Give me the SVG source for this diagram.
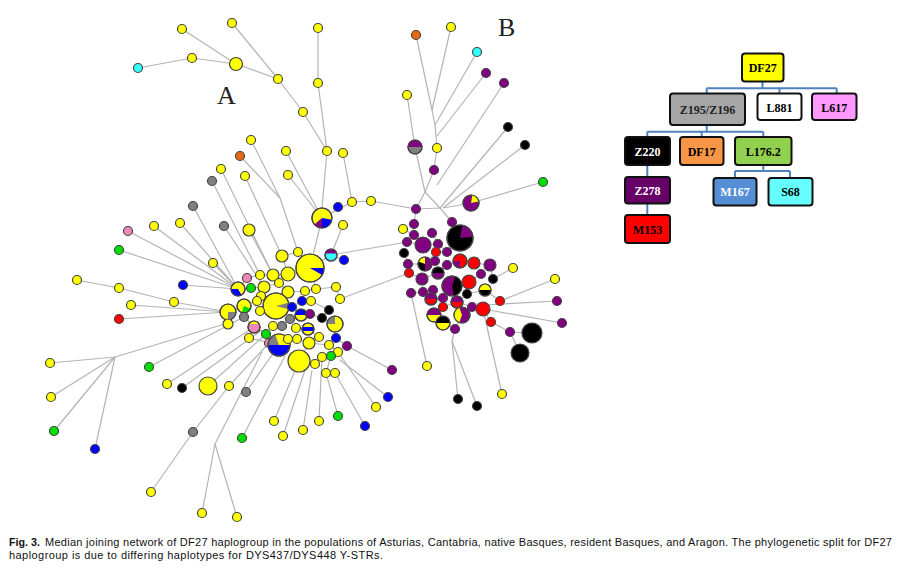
<svg xmlns="http://www.w3.org/2000/svg" width="898" height="573" viewBox="0 0 898 573">
<style>
circle{stroke:#444;stroke-width:1.2}
.y{fill:#ffff00}.p{fill:#800080}.k{fill:#000}.r{fill:#ff0000}.b{fill:#0000ff}.g{fill:#00dd00}.gr{fill:#808080}.c{fill:#33ffff}.o{fill:#e86a10}.pk{fill:#ee88bb}.ol{fill:none}
path.w{stroke:none}
#links path{stroke:#b4b4b4;stroke-width:1.2;fill:none}
#tree-links path{stroke:#4f81bd;stroke-width:2;fill:none}
.box{stroke:#111;stroke-width:2}
.bt{font-family:"Liberation Serif",serif;font-weight:bold;font-size:12px;text-anchor:middle}
.lab{font-family:"Liberation Serif",serif;font-size:26px;fill:#222}
.cap{font-family:"Liberation Sans",Arial,sans-serif;font-size:11px;fill:#111}
</style>
<rect width="898" height="573" fill="#fff"/>
<g id="links">
<path d="M138 68L192 58"/><path d="M192 58L236 64"/><path d="M182 29L236 64"/><path d="M236 64L278 79"/><path d="M232 23L278 79"/><path d="M278 79L303 112"/><path d="M303 112L327 151"/><path d="M318 28L318 83"/><path d="M318 83L327 151"/><path d="M327 151L322 208"/><path d="M343 153L352 202"/><path d="M352 202L371 201"/><path d="M371 201L416 209"/><path d="M322 218L352 202"/>
<path d="M251 140L280 198"/><path d="M240 156L280 198"/><path d="M280 198L298 252"/><path d="M221 169L273 275"/><path d="M212 181L260 275"/><path d="M245 176L282 256"/><path d="M286 151L322 218"/><path d="M288 175L322 218"/>
<path d="M193 206L238 289"/><path d="M224 226L264 287"/><path d="M180 223L238 289"/><path d="M154 226L238 289"/><path d="M128 231L238 289"/><path d="M119 250L238 289"/><path d="M213 263L238 289"/><path d="M183 285L238 289"/><path d="M77 280L119 288"/><path d="M119 288L174 302"/><path d="M174 302L228 312"/><path d="M131 305L228 312"/><path d="M119 319L228 312"/><path d="M249 230L273 275"/>
<path d="M322 218L310 268"/><path d="M343 225L331 255"/><path d="M331 255L310 268"/><path d="M344 260L331 255"/><path d="M331 255L407 242"/><path d="M340 299L409 273"/>
<path d="M115 357L228 323"/><path d="M115 357L50 363"/><path d="M115 357L51 397"/><path d="M115 357L54 431"/><path d="M115 357L95 449"/>
<path d="M149 367L244 317"/><path d="M167 384L254 327"/><path d="M182 388L262 330"/><path d="M208 386L266 334"/><path d="M229 386L269 343"/><path d="M193 432L229 386"/><path d="M151 492L193 432"/><path d="M215 444L202 513"/><path d="M215 444L237 517"/><path d="M215 444L262 352"/><path d="M246 392L279 345"/><path d="M242 438L285 356"/><path d="M274 421L299 361"/><path d="M283 436L305 370"/><path d="M303 430L312 370"/><path d="M319 421L322 357"/><path d="M338 416L326 373"/><path d="M365 426L335 373"/><path d="M376 407L338 352"/><path d="M388 397L340 360"/><path d="M392 370L347 346"/>
<path d="M238 289L247 278"/><path d="M247 278L260 275"/><path d="M260 275L273 275"/><path d="M273 275L288 274"/><path d="M288 274L310 268"/><path d="M282 256L298 252"/><path d="M298 252L310 268"/><path d="M282 256L288 274"/><path d="M238 289L251 288"/><path d="M251 288L264 287"/><path d="M264 287L279 283"/><path d="M279 283L288 292"/><path d="M288 292L305 291"/><path d="M305 291L316 289"/><path d="M316 289L336 287"/><path d="M336 287L340 299"/><path d="M276 306L292 307"/><path d="M292 307L302 301"/><path d="M302 301L311 301"/><path d="M311 301L329 310"/><path d="M329 310L322 318"/><path d="M322 318L335 324"/><path d="M301 315L310 314"/><path d="M310 314L322 318"/><path d="M228 312L244 306"/><path d="M244 306L257 301"/><path d="M257 301L261 296"/><path d="M228 312L228 323"/><path d="M244 317L254 327"/><path d="M254 327L266 334"/><path d="M266 334L269 343"/><path d="M273 326L282 326"/><path d="M282 326L290 319"/><path d="M290 319L301 315"/><path d="M296 328L308 329"/><path d="M308 329L319 337"/><path d="M297 339L309 343"/><path d="M288 339L279 345"/><path d="M309 343L329 345"/><path d="M329 345L338 352"/><path d="M336 338L347 346"/><path d="M322 357L315 364"/><path d="M299 361L315 364"/><path d="M331 356L326 373"/><path d="M260 311L276 306"/><path d="M249 338L279 345"/><path d="M310 268L316 289"/><path d="M276 306L288 292"/><path d="M299 361L309 343"/>
<path d="M416 35L432 110"/><path d="M451 27L432 110"/><path d="M432 110L435 125"/><path d="M477 52L435 125"/><path d="M435 125L437 148"/><path d="M486 73L437 136"/><path d="M437 148L434 170"/><path d="M504 83L437 185"/><path d="M434 170L425 192"/><path d="M407 95L415 147"/><path d="M415 147L425 192"/><path d="M425 192L416 209"/><path d="M425 192L440 208"/><path d="M508 127L440 208"/><path d="M525 145L443 208"/><path d="M543 182L471 203"/><path d="M471 203L443 208"/><path d="M440 208L452 222"/><path d="M416 209L440 208"/>
<path d="M452 222L460 238"/><path d="M416 209L414 224"/><path d="M414 224L414 235"/><path d="M414 235L423 245"/><path d="M403 229L414 235"/><path d="M432 233L438 244"/><path d="M423 245L438 244"/><path d="M438 244L447 252"/><path d="M447 252L460 238"/><path d="M407 242L423 245"/><path d="M404 253L408 264"/><path d="M408 264L425 264"/><path d="M425 264L435 261"/><path d="M435 261L436 252"/><path d="M436 252L447 252"/><path d="M447 265L460 261"/><path d="M460 261L474 263"/><path d="M474 263L490 265"/><path d="M490 265L493 279"/><path d="M409 273L422 279"/><path d="M422 279L438 273"/><path d="M438 273L447 265"/><path d="M422 279L423 292"/><path d="M411 293L423 292"/><path d="M423 292L433 290"/><path d="M433 290L431 299"/><path d="M431 299L443 298"/><path d="M443 298L452 286"/><path d="M452 286L469 282"/><path d="M469 282L481 274"/><path d="M469 282L467 294"/><path d="M467 294L485 290"/><path d="M485 290L500 301"/><path d="M443 307L457 302"/><path d="M457 302L472 307"/><path d="M472 307L483 309"/><path d="M434 315L443 307"/><path d="M443 323L455 329"/><path d="M455 329L462 315"/><path d="M462 315L457 302"/><path d="M483 309L491 322"/>
<path d="M513 268L493 279"/><path d="M555 279L500 301"/><path d="M557 301L485 305"/><path d="M562 323L483 309"/><path d="M510 332L491 322"/><path d="M532 333L510 332"/><path d="M520 353L510 332"/><path d="M427 366L411 293"/><path d="M458 399L452 341"/><path d="M477 406L452 341"/><path d="M452 341L455 329"/><path d="M502 394L483 309"/>
</g>
<g id="nodesA">
<g id="a1"><circle cx="138" cy="68" r="4.5" class="c"/></g>
<g id="a2"><circle cx="192" cy="58" r="4.5" class="y"/></g>
<g id="a3"><circle cx="236" cy="64" r="6.5" class="y"/></g>
<g id="a4"><circle cx="182" cy="29" r="4.5" class="y"/></g>
<g id="a5"><circle cx="232" cy="23" r="4.5" class="y"/></g>
<g id="a6"><circle cx="278" cy="79" r="4.5" class="y"/></g>
<g id="a7"><circle cx="303" cy="112" r="4.5" class="y"/></g>
<g id="a8"><circle cx="318" cy="28" r="4.5" class="y"/></g>
<g id="a9"><circle cx="318" cy="83" r="4.5" class="y"/></g>
<g id="a10"><circle cx="327" cy="151" r="4.5" class="y"/></g>
<g id="a11"><circle cx="343" cy="153" r="4.5" class="y"/></g>
<g id="a12"><circle cx="251" cy="140" r="4.5" class="y"/></g>
<g id="a13"><circle cx="240" cy="156" r="4.5" class="o"/></g>
<g id="a14"><circle cx="221" cy="169" r="4.5" class="y"/></g>
<g id="a15"><circle cx="212" cy="181" r="4.5" class="gr"/></g>
<g id="a16"><circle cx="245" cy="176" r="4.5" class="y"/></g>
<g id="a17"><circle cx="286" cy="151" r="4.5" class="y"/></g>
<g id="a18"><circle cx="288" cy="175" r="4.5" class="y"/></g>
<g id="a19"><circle cx="338" cy="207" r="4.5" class="b"/></g>
<g id="a20"><circle cx="352" cy="202" r="4.5" class="y"/></g>
<g id="a21"><circle cx="371" cy="201" r="4.5" class="y"/></g>
<g id="a22"><circle cx="322" cy="218" r="10" class="y"/><path class="w b" d="M322 218L331.85 219.74A10 10 0 0 1 322 228Z"/><path class="w p" d="M322 218L322 228A10 10 0 0 1 314.34 224.43Z"/><circle cx="322" cy="218" r="10" class="ol"/></g>
<g id="a23"><circle cx="343" cy="225" r="4.5" class="y"/></g>
<g id="a24"><circle cx="193" cy="206" r="4.5" class="gr"/></g>
<g id="a25"><circle cx="224" cy="226" r="4.5" class="gr"/></g>
<g id="a26"><circle cx="249" cy="230" r="6" class="y"/></g>
<g id="a27"><circle cx="180" cy="223" r="4.5" class="y"/></g>
<g id="a28"><circle cx="154" cy="226" r="4.5" class="y"/></g>
<g id="a29"><circle cx="128" cy="231" r="4.5" class="pk"/></g>
<g id="a30"><circle cx="119" cy="250" r="4.5" class="g"/></g>
<g id="a31"><circle cx="213" cy="263" r="4.5" class="y"/></g>
<g id="a32"><circle cx="183" cy="285" r="4.5" class="b"/></g>
<g id="a33"><circle cx="77" cy="280" r="4.5" class="y"/></g>
<g id="a34"><circle cx="119" cy="288" r="4.5" class="y"/></g>
<g id="a35"><circle cx="174" cy="302" r="4.5" class="y"/></g>
<g id="a36"><circle cx="131" cy="305" r="4.5" class="y"/></g>
<g id="a37"><circle cx="119" cy="319" r="4.5" class="r"/></g>
<g id="a38"><circle cx="331" cy="255" r="6" class="c"/><path class="w p" d="M325.19 253.5A6 6 0 0 1 336.81 253.5Z"/><circle cx="331" cy="255" r="6" class="ol"/></g>
<g id="a39"><circle cx="344" cy="260" r="4.5" class="b"/></g>
<g id="a40"><circle cx="298" cy="252" r="4.5" class="y"/></g>
<g id="a41"><circle cx="282" cy="256" r="6" class="y"/></g>
<g id="a42"><circle cx="310" cy="268" r="14" class="y"/><path class="w b" d="M310 268L324 268A14 14 0 0 1 322.12 275Z"/><circle cx="310" cy="268" r="14" class="ol"/></g>
<g id="a43"><circle cx="288" cy="274" r="7" class="y"/></g>
<g id="a44"><circle cx="273" cy="275" r="6" class="y"/></g>
<g id="a45"><circle cx="260" cy="275" r="4.5" class="y"/></g>
<g id="a46"><circle cx="247" cy="278" r="4.5" class="pk"/></g>
<g id="a47"><circle cx="238" cy="289" r="7" class="y"/><path class="w b" d="M238 289L241.5 295.06A7 7 0 0 1 231 289Z"/><circle cx="238" cy="289" r="7" class="ol"/></g>
<g id="a48"><circle cx="251" cy="288" r="4.5" class="g"/></g>
<g id="a49"><circle cx="264" cy="287" r="6" class="y"/></g>
<g id="a50"><circle cx="279" cy="283" r="4.5" class="y"/></g>
<g id="a51"><circle cx="288" cy="292" r="6" class="y"/></g>
<g id="a52"><circle cx="261" cy="296" r="4.5" class="y"/></g>
<g id="a53"><circle cx="276" cy="306" r="13" class="y"/><path class="w gr" d="M276 306L288.56 302.64A13 13 0 0 1 288.56 309.36Z"/><circle cx="276" cy="306" r="13" class="ol"/></g>
<g id="a54"><circle cx="257" cy="301" r="4.5" class="y"/></g>
<g id="a55"><circle cx="244" cy="306" r="7" class="y"/><path class="w g" d="M244 306L250.58 308.39A7 7 0 0 1 241.61 312.58Z"/><circle cx="244" cy="306" r="7" class="ol"/></g>
<g id="a56"><circle cx="228" cy="312" r="8" class="y"/><path class="w gr" d="M228 312L236 312A8 8 0 0 1 228 320Z"/><circle cx="228" cy="312" r="8" class="ol"/></g>
<g id="a57"><circle cx="228" cy="324" r="5" class="y"/></g>
<g id="a58"><circle cx="244" cy="317" r="4.5" class="gr"/></g>
<g id="a59"><circle cx="292" cy="307" r="4.5" class="b"/></g>
<g id="a60"><circle cx="305" cy="291" r="4.5" class="y"/></g>
<g id="a61"><circle cx="316" cy="289" r="4.5" class="y"/></g>
<g id="a62"><circle cx="336" cy="287" r="4.5" class="y"/></g>
<g id="a63"><circle cx="340" cy="299" r="4.5" class="y"/></g>
<g id="a64"><circle cx="302" cy="301" r="4.5" class="b"/></g>
<g id="a65"><circle cx="311" cy="301" r="4.5" class="y"/></g>
<g id="a66"><circle cx="301" cy="315" r="6" class="y"/><path class="w b" d="M295 315A6 6 0 0 1 307 315Z"/><circle cx="301" cy="315" r="6" class="ol"/></g>
<g id="a67"><circle cx="310" cy="314" r="4.5" class="p"/></g>
<g id="a68"><circle cx="260" cy="311" r="4.5" class="y"/></g>
<g id="a69"><circle cx="282" cy="326" r="4.5" class="gr"/></g>
<g id="a70"><circle cx="290" cy="319" r="4.5" class="gr"/></g>
<g id="a71"><circle cx="254" cy="327" r="6" class="pk"/><path class="w y" d="M248.8 324A6 6 0 0 1 259.2 324Z"/><circle cx="254" cy="327" r="6" class="ol"/></g>
<g id="a72"><circle cx="266" cy="334" r="4.5" class="g"/></g>
<g id="a73"><circle cx="269" cy="343" r="4.5" class="pk"/></g>
<g id="a74"><circle cx="273" cy="326" r="4.5" class="y"/></g>
<g id="a75"><circle cx="249" cy="338" r="4.5" class="y"/></g>
<g id="a76"><circle cx="279" cy="345" r="11" class="b"/><path class="w y" d="M268 345A11 11 0 0 1 290 345Z"/><path class="w gr" d="M279 345L268 345A11 11 0 0 1 275.24 334.66Z"/><circle cx="279" cy="345" r="11" class="ol"/></g>
<g id="a77"><circle cx="299" cy="361" r="11" class="y"/></g>
<g id="a78"><circle cx="329" cy="310" r="4.5" class="k"/></g>
<g id="a79"><circle cx="322" cy="318" r="4.5" class="k"/></g>
<g id="a80"><circle cx="335" cy="324" r="8" class="y"/><path class="w gr" d="M335 324L327 324A8 8 0 0 1 335 316Z"/><circle cx="335" cy="324" r="8" class="ol"/></g>
<g id="a81"><circle cx="308" cy="329" r="6" class="y"/><path class="w b" d="M302.34 327L313.66 327A6 6 0 0 1 313.66 331L302.34 331A6 6 0 0 1 302.34 327Z"/><circle cx="308" cy="329" r="6" class="ol"/></g>
<g id="a82"><circle cx="296" cy="328" r="4.5" class="y"/></g>
<g id="a83"><circle cx="297" cy="339" r="4.5" class="y"/></g>
<g id="a84"><circle cx="288" cy="339" r="4.5" class="y"/></g>
<g id="a85"><circle cx="309" cy="343" r="6" class="y"/></g>
<g id="a86"><circle cx="319" cy="337" r="4.5" class="y"/></g>
<g id="a87"><circle cx="336" cy="338" r="4.5" class="b"/></g>
<g id="a88"><circle cx="347" cy="346" r="4.5" class="p"/></g>
<g id="a89"><circle cx="329" cy="345" r="4.5" class="y"/></g>
<g id="a90"><circle cx="338" cy="352" r="4.5" class="y"/></g>
<g id="a91"><circle cx="331" cy="356" r="4.5" class="g"/></g>
<g id="a92"><circle cx="322" cy="357" r="4.5" class="y"/></g>
<g id="a93"><circle cx="315" cy="364" r="4.5" class="y"/></g>
<g id="a94"><circle cx="326" cy="373" r="4.5" class="y"/></g>
<g id="a95"><circle cx="335" cy="373" r="4.5" class="y"/></g>
<g id="a96"><circle cx="50" cy="363" r="4.5" class="y"/></g>
<g id="a97"><circle cx="51" cy="397" r="4.5" class="y"/></g>
<g id="a98"><circle cx="54" cy="431" r="4.5" class="g"/></g>
<g id="a99"><circle cx="95" cy="449" r="4.5" class="b"/></g>
<g id="a100"><circle cx="149" cy="367" r="4.5" class="g"/></g>
<g id="a101"><circle cx="167" cy="384" r="4.5" class="y"/></g>
<g id="a102"><circle cx="182" cy="388" r="4.5" class="k"/></g>
<g id="a103"><circle cx="208" cy="386" r="9" class="y"/></g>
<g id="a104"><circle cx="229" cy="386" r="4.5" class="y"/></g>
<g id="a105"><circle cx="246" cy="392" r="4.5" class="gr"/></g>
<g id="a106"><circle cx="193" cy="432" r="4.5" class="gr"/></g>
<g id="a107"><circle cx="151" cy="492" r="4.5" class="y"/></g>
<g id="a108"><circle cx="202" cy="513" r="4.5" class="y"/></g>
<g id="a109"><circle cx="237" cy="517" r="4.5" class="y"/></g>
<g id="a110"><circle cx="242" cy="438" r="4.5" class="g"/></g>
<g id="a111"><circle cx="274" cy="421" r="4.5" class="y"/></g>
<g id="a112"><circle cx="283" cy="436" r="4.5" class="y"/></g>
<g id="a113"><circle cx="303" cy="430" r="4.5" class="y"/></g>
<g id="a114"><circle cx="319" cy="421" r="4.5" class="y"/></g>
<g id="a115"><circle cx="338" cy="416" r="4.5" class="g"/></g>
<g id="a116"><circle cx="365" cy="426" r="4.5" class="b"/></g>
<g id="a117"><circle cx="376" cy="407" r="4.5" class="y"/></g>
<g id="a118"><circle cx="388" cy="397" r="4.5" class="b"/></g>
<g id="a119"><circle cx="392" cy="370" r="4.5" class="p"/></g>
</g>
<g id="nodesB">
<g id="b1"><circle cx="416" cy="35" r="4.5" class="o"/></g>
<g id="b2"><circle cx="451" cy="27" r="4.5" class="y"/></g>
<g id="b3"><circle cx="477" cy="52" r="4.5" class="c"/></g>
<g id="b4"><circle cx="486" cy="73" r="4.5" class="p"/></g>
<g id="b5"><circle cx="504" cy="83" r="4.5" class="p"/></g>
<g id="b6"><circle cx="407" cy="95" r="4.5" class="y"/></g>
<g id="b7"><circle cx="508" cy="127" r="4.5" class="k"/></g>
<g id="b8"><circle cx="525" cy="145" r="4.5" class="k"/></g>
<g id="b9"><circle cx="543" cy="182" r="4.5" class="g"/></g>
<g id="b10"><circle cx="415" cy="147" r="7" class="gr"/><path class="w p" d="M408 147A7 7 0 0 1 422 147Z"/><circle cx="415" cy="147" r="7" class="ol"/></g>
<g id="b11"><circle cx="437" cy="148" r="4.5" class="y"/></g>
<g id="b12"><circle cx="434" cy="170" r="4.5" class="p"/></g>
<g id="b13"><circle cx="471" cy="203" r="8" class="p"/><path class="w y" d="M471 203L472.39 195.12A8 8 0 0 1 478.88 201.61Z"/><circle cx="471" cy="203" r="8" class="ol"/></g>
<g id="b14"><circle cx="416" cy="209" r="4.5" class="p"/></g>
<g id="b15"><circle cx="452" cy="222" r="4.5" class="p"/></g>
<g id="b16"><circle cx="403" cy="229" r="4.5" class="y"/></g>
<g id="b17"><circle cx="414" cy="224" r="4.5" class="p"/></g>
<g id="b18"><circle cx="414" cy="235" r="4.5" class="p"/></g>
<g id="b19"><circle cx="432" cy="233" r="4.5" class="p"/></g>
<g id="b20"><circle cx="460" cy="238" r="13" class="k"/><path class="w p" d="M460 238L462.26 225.2A13 13 0 0 1 472.95 236.87Z"/><circle cx="460" cy="238" r="13" class="ol"/></g>
<g id="b21"><circle cx="407" cy="242" r="4.5" class="p"/></g>
<g id="b22"><circle cx="423" cy="245" r="8" class="p"/></g>
<g id="b23"><circle cx="438" cy="244" r="4.5" class="p"/></g>
<g id="b24"><circle cx="404" cy="253" r="4.5" class="k"/></g>
<g id="b25"><circle cx="436" cy="252" r="4.5" class="r"/></g>
<g id="b26"><circle cx="447" cy="252" r="4.5" class="p"/></g>
<g id="b27"><circle cx="408" cy="264" r="4.5" class="p"/></g>
<g id="b28"><circle cx="425" cy="264" r="7" class="p"/><path class="w k" d="M425 264L425 271A7 7 0 0 1 425 257Z"/><path class="w y" d="M425 264L418.42 261.61A7 7 0 0 1 425 257Z"/><circle cx="425" cy="264" r="7" class="ol"/></g>
<g id="b29"><circle cx="435" cy="261" r="4.5" class="p"/></g>
<g id="b30"><circle cx="460" cy="261" r="7" class="r"/><path class="w p" d="M460 261L460 268A7 7 0 0 1 453 261Z"/><circle cx="460" cy="261" r="7" class="ol"/></g>
<g id="b31"><circle cx="474" cy="263" r="6" class="r"/></g>
<g id="b32"><circle cx="490" cy="265" r="6" class="p"/></g>
<g id="b33"><circle cx="409" cy="273" r="4.5" class="r"/></g>
<g id="b34"><circle cx="438" cy="273" r="6" class="p"/><path class="w k" d="M432 273A6 6 0 0 1 444 273Z"/><circle cx="438" cy="273" r="6" class="ol"/></g>
<g id="b35"><circle cx="447" cy="265" r="4.5" class="p"/></g>
<g id="b36"><circle cx="422" cy="279" r="6" class="p"/></g>
<g id="b37"><circle cx="469" cy="282" r="7" class="r"/></g>
<g id="b38"><circle cx="481" cy="274" r="4.5" class="p"/></g>
<g id="b39"><circle cx="493" cy="279" r="4.5" class="k"/></g>
<g id="b40"><circle cx="513" cy="268" r="4.5" class="y"/></g>
<g id="b41"><circle cx="555" cy="279" r="4.5" class="y"/></g>
<g id="b42"><circle cx="452" cy="286" r="10" class="p"/><path class="w k" d="M452 286L455.42 276.6A10 10 0 0 1 453.74 295.85Z"/><circle cx="452" cy="286" r="10" class="ol"/></g>
<g id="b43"><circle cx="411" cy="293" r="4.5" class="p"/></g>
<g id="b44"><circle cx="423" cy="292" r="4.5" class="p"/></g>
<g id="b45"><circle cx="433" cy="290" r="4.5" class="p"/></g>
<g id="b46"><circle cx="431" cy="299" r="6" class="r"/><path class="w p" d="M425 299A6 6 0 0 1 437 299Z"/><circle cx="431" cy="299" r="6" class="ol"/></g>
<g id="b47"><circle cx="443" cy="298" r="4.5" class="p"/></g>
<g id="b48"><circle cx="467" cy="294" r="4.5" class="k"/></g>
<g id="b49"><circle cx="485" cy="290" r="6" class="k"/><path class="w y" d="M479 290A6 6 0 0 1 491 290Z"/><circle cx="485" cy="290" r="6" class="ol"/></g>
<g id="b50"><circle cx="457" cy="302" r="6" class="r"/><path class="w p" d="M451 302A6 6 0 0 1 463 302Z"/><circle cx="457" cy="302" r="6" class="ol"/></g>
<g id="b51"><circle cx="443" cy="307" r="4.5" class="r"/></g>
<g id="b52"><circle cx="500" cy="301" r="4.5" class="r"/></g>
<g id="b53"><circle cx="557" cy="301" r="4.5" class="p"/></g>
<g id="b54"><circle cx="472" cy="307" r="4.5" class="p"/></g>
<g id="b55"><circle cx="483" cy="309" r="7" class="r"/></g>
<g id="b56"><circle cx="434" cy="315" r="7" class="y"/><path class="w p" d="M427 315A7 7 0 0 1 441 315Z"/><circle cx="434" cy="315" r="7" class="ol"/></g>
<g id="b57"><circle cx="462" cy="315" r="8" class="p"/><path class="w y" d="M462 315L459.26 322.52A8 8 0 0 1 459.26 307.48Z"/><circle cx="462" cy="315" r="8" class="ol"/></g>
<g id="b58"><circle cx="443" cy="323" r="7" class="y"/><path class="w k" d="M436 323A7 7 0 0 1 450 323Z"/><circle cx="443" cy="323" r="7" class="ol"/></g>
<g id="b59"><circle cx="455" cy="329" r="4.5" class="p"/></g>
<g id="b60"><circle cx="491" cy="322" r="4.5" class="r"/></g>
<g id="b61"><circle cx="562" cy="323" r="4.5" class="p"/></g>
<g id="b62"><circle cx="510" cy="332" r="4.5" class="p"/></g>
<g id="b63"><circle cx="532" cy="333" r="10" class="k"/></g>
<g id="b64"><circle cx="520" cy="353" r="9" class="k"/></g>
<g id="b65"><circle cx="427" cy="366" r="4.5" class="y"/></g>
<g id="b66"><circle cx="502" cy="394" r="4.5" class="y"/></g>
<g id="b67"><circle cx="458" cy="399" r="4.5" class="k"/></g>
<g id="b68"><circle cx="477" cy="406" r="4.5" class="k"/></g>
</g>
<g id="labels">
<text x="217" y="104" class="lab">A</text>
<text x="498" y="36" class="lab">B</text>
</g>
<g id="tree-links">
<path d="M762.5 82V88.3M706.7 88.3H836.7M706.7 88.3V93M779.5 88.3V93M836.7 88.3V93"/>
<path d="M706.7 125V131.7M647.3 131.7H763.3M647.3 131.7V137M701.7 131.7V137M763.3 131.7V137"/>
<path d="M763.3 165V171M735 171H790M735 171V178M790 171V178"/>
<path d="M647.3 165V177M647.3 203V215"/>
</g>
<g id="t-df27"><rect x="742" y="53.5" width="41.5" height="28" rx="3" class="box" fill="#ffff00"/><text x="762.7" y="72" class="bt">DF27</text></g>
<g id="t-z195"><rect x="670" y="93.5" width="75" height="31.5" rx="3" class="box" fill="#a6a6a6"/><text x="707.5" y="113.5" class="bt" fill="#222">Z195/Z196</text></g>
<g id="t-l881"><rect x="757.5" y="93.5" width="44" height="26.5" rx="3" class="box" fill="#ffffff"/><text x="779.5" y="111.5" class="bt">L881</text></g>
<g id="t-l617"><rect x="812" y="93.5" width="44.5" height="26.5" rx="3" class="box" fill="#ff99ff"/><text x="834.2" y="111.5" class="bt">L617</text></g>
<g id="t-z220"><rect x="625" y="137" width="45" height="28" rx="3" class="box" fill="#000000"/><text x="647.5" y="155.5" class="bt" fill="#fff">Z220</text></g>
<g id="t-df17"><rect x="680" y="137" width="43.5" height="28" rx="3" class="box" fill="#f79646"/><text x="701.7" y="155.5" class="bt">DF17</text></g>
<g id="t-l176"><rect x="735" y="137" width="56.5" height="28" rx="3" class="box" fill="#92d050"/><text x="763.2" y="155.5" class="bt">L176.2</text></g>
<g id="t-z278"><rect x="625" y="177" width="45" height="26.5" rx="3" class="box" fill="#660066"/><text x="647.5" y="194.5" class="bt" fill="#fff">Z278</text></g>
<g id="t-m167"><rect x="713.5" y="178" width="43" height="27.5" rx="3" class="box" fill="#558ed5"/><text x="735" y="196" class="bt" fill="#fff">M167</text></g>
<g id="t-s68"><rect x="768.5" y="178" width="44" height="27.5" rx="3" class="box" fill="#66ffff"/><text x="790.5" y="196" class="bt">S68</text></g>
<g id="t-m153"><rect x="625" y="215" width="45" height="28" rx="3" class="box" fill="#ff0000"/><text x="647.5" y="233.5" class="bt">M153</text></g>
<g id="caption">
<text x="9" y="546" class="cap" font-weight="bold" textLength="31" lengthAdjust="spacingAndGlyphs">Fig. 3.</text>
<text x="45" y="546" class="cap" textLength="847" lengthAdjust="spacing">Median joining network of DF27 haplogroup in the populations of Asturias, Cantabria, native Basques, resident Basques, and Aragon. The phylogenetic split for DF27</text>
<text x="9" y="558.5" class="cap" textLength="374" lengthAdjust="spacing">haplogroup is due to differing haplotypes for DYS437/DYS448  Y-STRs.</text>
</g>
</svg>
